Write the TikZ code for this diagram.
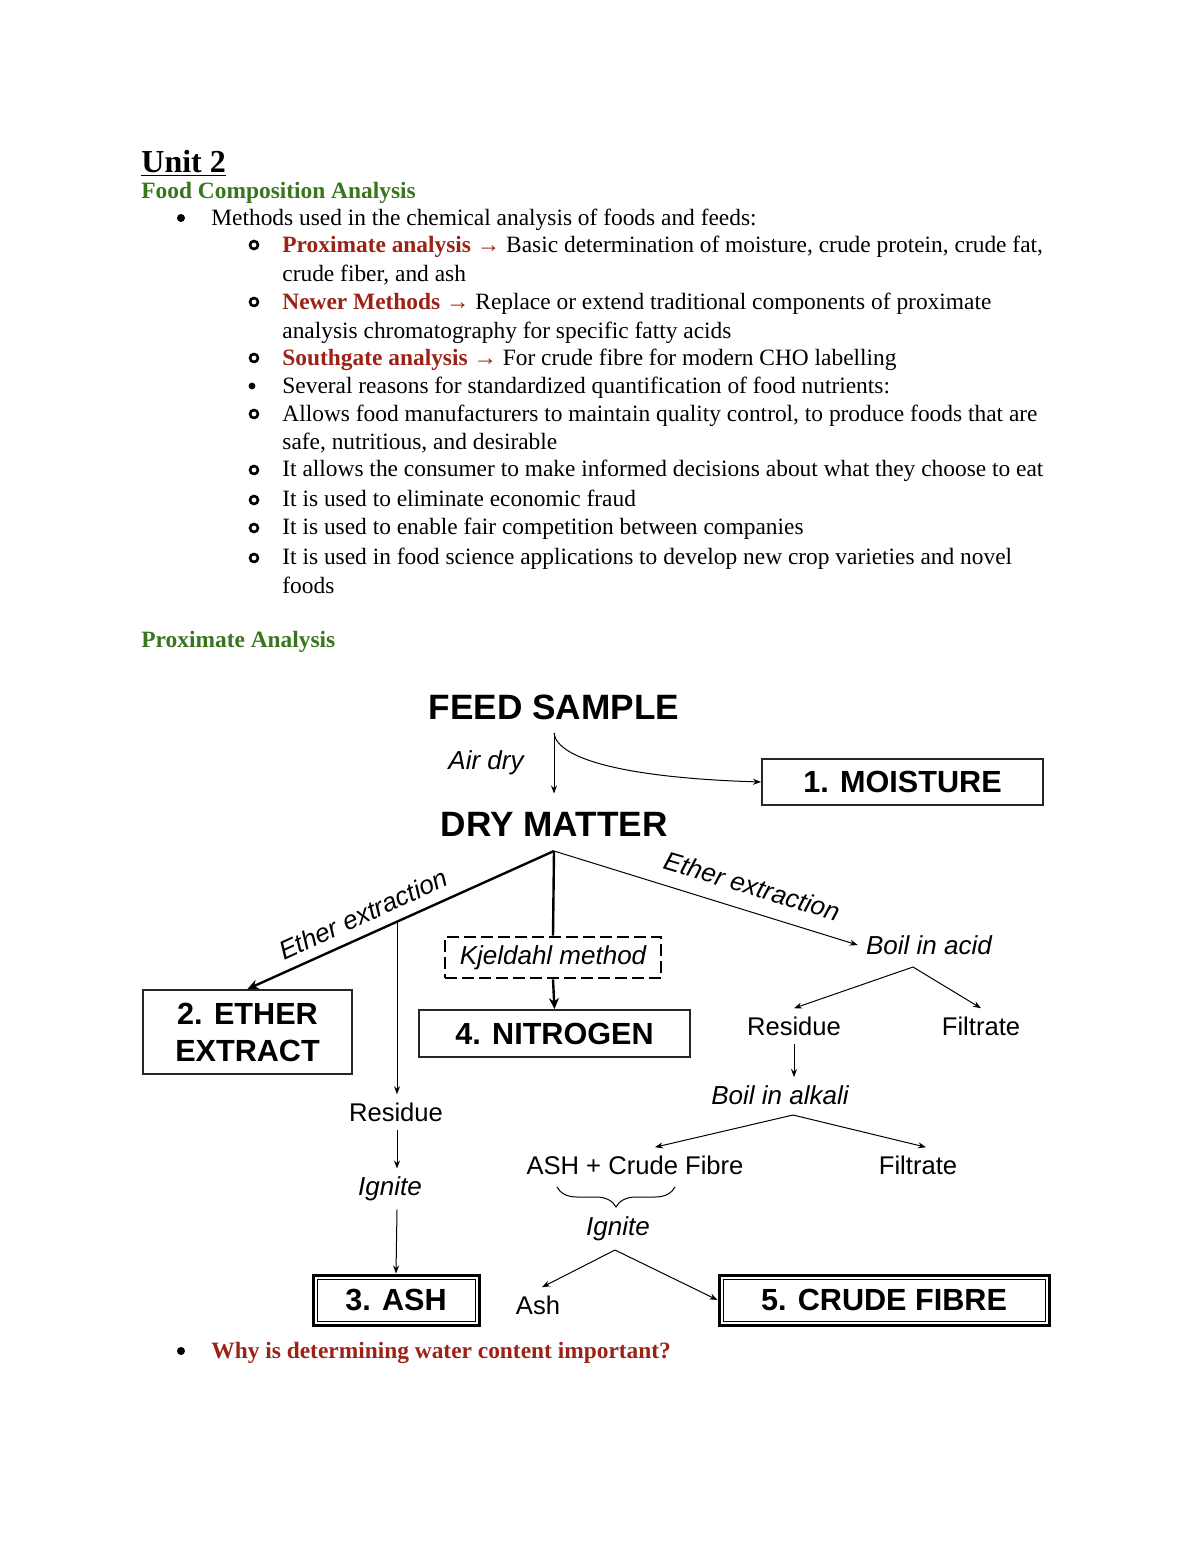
\documentclass[tikz,border=0pt]{standalone}
\usepackage{fontspec}
\setmainfont{Liberation Serif}
\newfontfamily\arialf{Liberation Sans}
\usetikzlibrary{arrows.meta,decorations.pathreplacing}
\definecolor{hgreen}{RGB}{56,118,29}
\definecolor{hred}{RGB}{155,35,22}
\begin{document}
\begin{tikzpicture}[x=0.5pt,y=-0.5pt,
  txt/.style={anchor=base west,inner sep=0pt,font=\fontsize{11.7}{14}\selectfont},
  dotb/.style={circle,fill=black,inner sep=0pt,minimum size=4pt},
  dots/.style={circle,fill=black,inner sep=0pt,minimum size=3.4pt},
  ring/.style={circle,draw=black,line width=1.3pt,inner sep=0pt,minimum size=4pt},
  big/.style={font=\arialf\bfseries\fontsize{17.6}{20}\selectfont,inner sep=1pt},
  box/.style={draw=black!85,line width=1pt,font=\arialf\bfseries\fontsize{15.3}{18.5}\selectfont,align=center,inner sep=0pt},
  dbox/.style={box,draw=black,line width=1.5pt},
  lab/.style={font=\arialf\itshape\fontsize{13}{15}\selectfont,inner sep=4pt},
  rlab/.style={font=\arialf\itshape\fontsize{13}{15}\selectfont,inner sep=0pt},
  plain/.style={font=\arialf\fontsize{12.8}{15}\selectfont,inner sep=4pt},
  thinarrow/.style={line width=0.5pt,-{Stealth[length=4pt,width=3pt]}},
  thickarrow/.style={line width=1.2pt,-{Stealth[length=5.5pt,width=5pt]}},
]
\fill[white] (0,0) rectangle (1200,1553);
\useasboundingbox (0,0) rectangle (1200,1553);

% ---------- header text ----------
\node[txt,font=\bfseries\fontsize{16}{19}\selectfont] (unit) at (141,172) {\underline{Unit 2}};
\node[txt,font=\bfseries\fontsize{11.7}{14}\selectfont,text=hgreen] (fca) at (141,198) {Food Composition Analysis};

\node[dotb] (b1) at (181,218) {};
\node[txt] (l1) at (211,225) {Methods used in the chemical analysis of foods and feeds:};
\node[ring] (r1) at (254,245) {};
\node[txt] (l2) at (282,252) {{\color{hred}\bfseries Proximate analysis →} Basic determination of moisture, crude protein, crude fat,};
\node[txt] (l3) at (282,281) {crude fiber, and ash};
\node[ring] (r2) at (254,302) {};
\node[txt] (l4) at (282,309) {{\color{hred}\bfseries Newer Methods →} Replace or extend traditional components of proximate};
\node[txt] (l5) at (282,338) {analysis chromatography for specific fatty acids};
\node[ring] (r3) at (254,358) {};
\node[txt] (l6) at (282,365) {{\color{hred}\bfseries Southgate analysis →} For crude fibre for modern CHO labelling};
\node[dots] (b2) at (252,386) {};
\node[txt] (l7) at (282,393) {Several reasons for standardized quantification of food nutrients:};
\node[ring] (r4) at (254,414) {};
\node[txt] (l8) at (282,421) {Allows food manufacturers to maintain quality control, to produce foods that are};
\node[txt] (l9) at (282,449) {safe, nutritious, and desirable};
\node[ring] (r5) at (254,470) {};
\node[txt] (l10) at (282,476) {It allows the consumer to make informed decisions about what they choose to eat};
\node[ring] (r6) at (254,500) {};
\node[txt] (l11) at (282,506) {It is used to eliminate economic fraud};
\node[ring] (r7) at (254,528) {};
\node[txt] (l12) at (282,534) {It is used to enable fair competition between companies};
\node[ring] (r8) at (254,558) {};
\node[txt] (l13) at (282,564) {It is used in food science applications to develop new crop varieties and novel};
\node[txt] (l14) at (282,593) {foods};

\node[txt,font=\bfseries\fontsize{11.7}{14}\selectfont,text=hgreen] (pa) at (141,647) {Proximate Analysis};

\node[dotb] (b3) at (181,1351) {};
\node[txt,font=\bfseries\fontsize{11.7}{14}\selectfont,text=hred] (why) at (211,1358) {Why is determining water content important?};

% ---------- diagram nodes ----------
\node[big] (feed) at (554,707) {FEED SAMPLE};
\node[big] (dm) at (554,824) {DRY MATTER};
\node[box,minimum width=140.5pt,minimum height=23pt] (moist) at (902.5,782) {1. MOISTURE};
\node[lab] (airdry) at (486,763) {Air dry};

\node[box,minimum width=104.5pt,minimum height=42pt] (ee) at (247.5,1032) {2. ETHER\\EXTRACT};
\node[rlab,draw=black,line width=1.4pt,dash pattern=on 6pt off 2.5pt,minimum width=108pt,minimum height=20.5pt] (kj) at (553,957.5) {Kjeldahl method};
\node[box,minimum width=135.5pt,minimum height=23.5pt] (nit) at (554.5,1033.5) {4. NITROGEN};

\node[rlab,rotate=24.6] (elab1) at (363,914) {Ether extraction};
\node[rlab,rotate=-16.8] (elab2) at (752,886) {Ether extraction};

\node[plain] (res1) at (396,1112) {Residue};
\node[lab] (ign1) at (390,1189) {Ignite};
\node[dbox,minimum width=83pt,minimum height=25pt] (ash) at (396,1300) {3. ASH};

\node[lab] (acid) at (929,945) {Boil in acid};
\node[plain] (res2) at (794,1026) {Residue};
\node[plain] (fil1) at (981,1026) {Filtrate};
\node[lab] (alk) at (780,1095) {Boil in alkali};
\node[plain] (ashcf) at (635,1165) {ASH + Crude Fibre};
\node[plain] (fil2) at (918,1165) {Filtrate};
\node[lab] (ign2) at (618,1229) {Ignite};
\node[plain] (ashsm) at (538,1305) {Ash};
\node[dbox,minimum width=165pt,minimum height=25pt] (cf) at (884,1300) {5. CRUDE FIBRE};

% inner lines of double boxes
\draw[line width=0.5pt] ([shift={(5.5,5.5)}]ash.north west) rectangle ([shift={(-5.5,-5.5)}]ash.south east);
\draw[line width=0.5pt] ([shift={(5.5,5.5)}]cf.north west) rectangle ([shift={(-5.5,-5.5)}]cf.south east);

% ---------- junction coordinates ----------
\coordinate (fs) at (554,733);
\coordinate (dmj) at (554,851);
\coordinate (ej) at (397,922);
\coordinate (aj) at (913,967);
\coordinate (bj) at (793,1115);
\coordinate (br1) at (557,1187);
\coordinate (br2) at (675,1187);
\coordinate (ij) at (615,1250);

% ---------- connectors ----------
\draw[thinarrow] (fs) -- ([yshift=8pt]dm.north);
\draw[thinarrow] (fs) .. controls (557,760) and (630,778) .. (moist.west);

\draw[thickarrow] (dmj) -- (ee.north);
\draw[line width=1.2pt] (dmj) -- (kj.north);
\draw[thickarrow] (kj.south) -- (nit.north);
\draw[thinarrow] (dmj) -- (acid.west);

\draw[thinarrow] (ej) -- (ej |- res1.north);
\draw[thinarrow] (ej |- res1.south) -- (ej |- ign1.north);
\draw[thinarrow] (ej |- ign1.south) -- (ash.north);

\draw[thinarrow] (aj) -- (res2.north);
\draw[thinarrow] (aj) -- (fil1.north);
\draw[thinarrow] (res2.south) -- (res2.south |- alk.north);
\draw[thinarrow] (bj) -- ([xshift=10pt]ashcf.north);
\draw[thinarrow] (bj) -- ([xshift=4pt]fil2.north);
\draw[line width=0.5pt,decorate,decoration={brace,mirror,amplitude=10pt}] (br1) -- (br2);
\draw[thinarrow] (ij) -- ([xshift=2pt]ashsm.north);
\draw[thinarrow] (ij) -- (cf.west);
\end{tikzpicture}
\end{document}
